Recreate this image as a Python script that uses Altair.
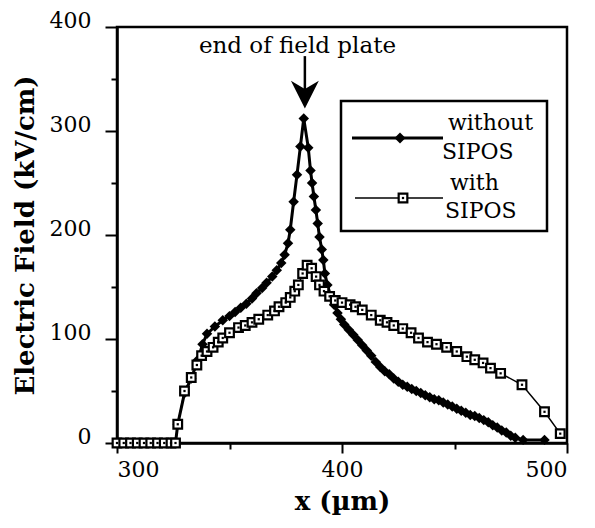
import pandas as pd
import altair as alt

# E-field along the surface
x_without = [300, 303, 306, 309, 312, 315, 318, 321, 324,
             326, 327, 330, 333, 336, 338, 340,
             343.5, 347, 350, 352.5, 355, 357.5, 360, 362, 364.5, 366.5,
             369, 371, 373, 374.5, 376, 377, 378.5, 380, 381.5, 383,
             385, 386, 386.7, 387.5, 388.4, 389.2, 390, 391, 391.7, 392.4,
             393.5, 395, 396.5, 398, 399.5, 401, 403, 405, 407, 409,
             411, 413, 415, 417, 419, 421, 423, 425, 427, 429, 431, 433,
             435, 437, 439, 441, 443, 445, 447, 449, 451, 453, 455, 457,
             459, 461, 463, 465, 467, 469, 471, 473, 475, 477,
             480.5, 490]
y_without = [0, 0, 0, 0, 0, 0, 0, 0, 0,
             0, 18, 48, 62, 80, 95, 105,
             112, 118, 122, 126, 130, 134, 139, 144, 149, 154,
             160, 166, 173, 181, 192, 205, 232, 258, 285, 312,
             284, 262, 250, 237, 224, 211, 198, 186, 176, 163,
             152, 141, 133, 125, 119, 114, 109, 104, 99, 94,
             89, 84, 78, 73, 69, 66, 62, 59, 56, 54, 52, 50,
             48, 46, 44, 42, 41, 39, 37, 35, 33, 31, 29, 27,
             26, 24, 22, 20, 17, 15, 12, 10, 7, 5,
             3, 3]

x_with = [300, 303, 306, 309, 312, 315, 318, 321, 324,
          326, 327, 330, 333, 335.5, 337.6, 340,
          342.7, 345, 347, 350, 354, 357, 360, 363, 367, 370,
          372, 375, 377, 379, 380.6, 382.5, 384.5, 386.5, 388.5, 390,
          392, 394.5, 397, 400, 403.6, 406, 409, 413, 417, 420,
          423, 427, 430.7, 434, 438, 442, 446.5, 451, 455.5, 459,
          462.7, 466, 470.5, 480, 490, 497]
y_with = [0, 0, 0, 0, 0, 0, 0, 0, 0,
          0, 18, 50, 63, 75, 84, 88,
          92, 97, 101, 106, 111, 113, 116, 119, 123, 127,
          131, 135, 140, 146, 152, 163, 171, 168, 160, 152,
          146, 141, 137, 135, 133, 131, 128, 123, 118, 116,
          113, 110, 106, 101, 97, 95, 92, 88, 83, 80,
          77, 72, 67, 56, 30, 9]

FONT = "DejaVu Serif"

without_df = pd.DataFrame({"x": x_without, "field": y_without})
with_df = pd.DataFrame({"x": x_with, "field": y_with})
one = pd.DataFrame({"k": [0]})

x_enc = alt.X(
    "x:Q",
    scale=alt.Scale(domain=[300, 500], nice=False, zero=False),
    axis=alt.Axis(
        title="x (µm)",
        values=[300, 350, 400, 450, 500],
        labelExpr="datum.value % 100 == 0 ? datum.label : ''",
        tickSize={"condition": {"test": "datum.value % 100 == 0", "value": 10}, "value": 6},
        labelPadding=6,
        titlePadding=8,
    ),
)
y_enc = alt.Y(
    "field:Q",
    scale=alt.Scale(domain=[0, 400], nice=False),
    axis=alt.Axis(
        title="Electric Field (kV/cm)",
        values=[0, 50, 100, 150, 200, 250, 300, 350, 400],
        labelExpr="datum.value % 100 == 0 ? datum.label : ''",
        tickSize={"condition": {"test": "datum.value % 100 == 0", "value": 12}, "value": 6},
        labelPadding=14,
        labelOffset=-7,
        titlePadding=11,
    ),
)

without_line = alt.Chart(without_df).mark_line(color="black", strokeWidth=3).encode(x=x_enc, y=y_enc)
without_pts = alt.Chart(without_df).mark_point(
    shape="diamond", filled=True, color="black", opacity=1, size=110
).encode(x="x:Q", y="field:Q")

with_line = alt.Chart(with_df).mark_line(color="black", strokeWidth=1.5).encode(x="x:Q", y="field:Q")
with_pts = alt.Chart(with_df).mark_point(
    shape="square", filled=True, fill="white", stroke="black", strokeWidth=2.2, opacity=1, size=75
).encode(x="x:Q", y="field:Q")
with_dots = alt.Chart(with_df).mark_point(
    shape="square", filled=True, color="black", opacity=1, size=5
).encode(x="x:Q", y="field:Q")

# "end of field plate" arrow
note = alt.Chart(one).mark_text(
    text="end of field plate", font=FONT, fontSize=23, baseline="alphabetic", color="black"
).encode(x=alt.datum(380.2), y=alt.datum(375))
shaft = alt.Chart(one).mark_rule(color="black", strokeWidth=2.5).encode(
    x=alt.datum(383.5), y=alt.datum(372), y2=alt.datum(333)
)
head = alt.Chart(one).mark_point(
    shape="M0,1L-1,-1L0,-0.4L1,-1Z", filled=True, color="black", opacity=1, size=780
).encode(x=alt.datum(383.5), y=alt.datum(335))

# hand-drawn legend box
box = alt.Chart(one).mark_rect(fill="white", stroke="black", strokeWidth=2.5).encode(
    x=alt.value(224), x2=alt.value(430), y=alt.value(74), y2=alt.value(204)
)
leg_line1 = alt.Chart(one).mark_rule(color="black", strokeWidth=3).encode(
    x=alt.value(235), x2=alt.value(326), y=alt.value(111)
)
leg_sym1 = alt.Chart(one).mark_point(
    shape="diamond", filled=True, color="black", opacity=1, size=120
).encode(x=alt.value(283), y=alt.value(111))
leg_line2 = alt.Chart(one).mark_rule(color="black", strokeWidth=1.5).encode(
    x=alt.value(238), x2=alt.value(326), y=alt.value(171)
)
leg_sym2 = alt.Chart(one).mark_point(
    shape="square", filled=True, fill="white", stroke="black", strokeWidth=2.2, opacity=1, size=75
).encode(x=alt.value(286), y=alt.value(171))
leg_dot2 = alt.Chart(one).mark_point(
    shape="square", filled=True, color="black", opacity=1, size=5
).encode(x=alt.value(286), y=alt.value(171))


def leg_text(label, px, py):
    return alt.Chart(one).mark_text(
        text=label, font=FONT, fontSize=22, align="left", baseline="alphabetic", color="black"
    ).encode(x=alt.value(px), y=alt.value(py))


chart = alt.layer(
    without_line, without_pts, with_line, with_pts, with_dots,
    shaft, head, note,
    box, leg_line1, leg_sym1, leg_line2, leg_sym2, leg_dot2,
    leg_text("without", 331, 103), leg_text("SIPOS", 325, 132),
    leg_text("with", 333, 163), leg_text("SIPOS", 328, 191),
).properties(
    width=450,
    height=416,
    autosize=alt.AutoSizeParams(type="none"),
    padding={"left": 109, "top": 19, "right": 20, "bottom": 76},
).configure_view(
    stroke="black", strokeWidth=2.5
).configure_axis(
    grid=False,
    domainColor="black",
    domainWidth=2.5,
    tickColor="black",
    tickWidth=2,
    labelFont=FONT,
    labelFontSize=22,
    labelColor="black",
    titleFont=FONT,
    titleFontSize=26,
    titleFontWeight="bold",
    titleColor="black",
)

chart.save("out.html", embed_options={"renderer": "svg", "actions": False})
